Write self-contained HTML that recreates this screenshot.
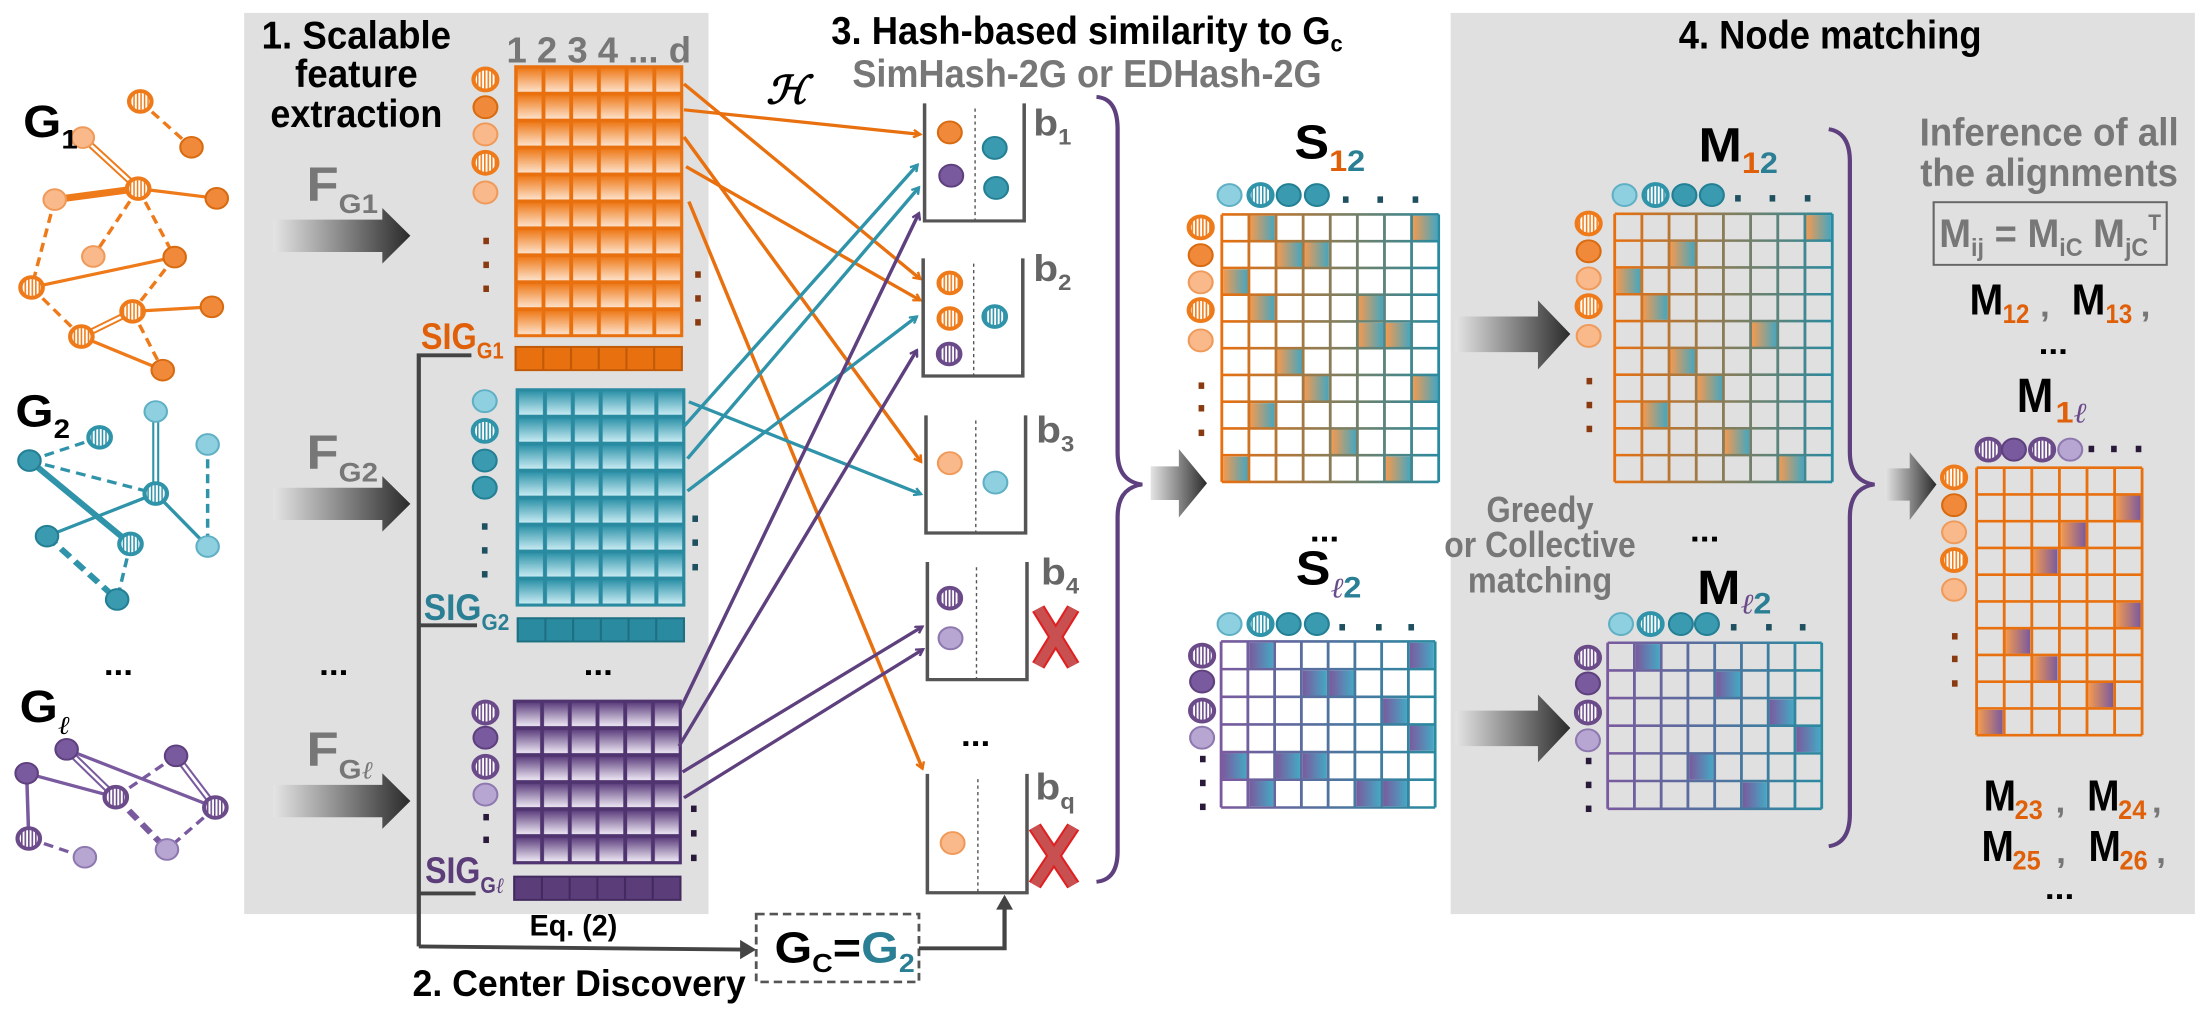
<!DOCTYPE html>
<html><head><meta charset="utf-8"><style>
html,body{margin:0;padding:0;background:#fff;}
svg{display:block;}
text{font-family:"Liberation Sans Narrow","Liberation Sans",sans-serif;font-weight:bold;}
</style></head><body>
<svg width="2204" height="1013" viewBox="0 0 2204 1013" xmlns="http://www.w3.org/2000/svg">
<defs>
<linearGradient id="gO" x1="0" y1="0" x2="0" y2="1"><stop offset="0" stop-color="#ee7a1a"/><stop offset="1" stop-color="#fde0c8"/></linearGradient>
<linearGradient id="gT" x1="0" y1="0" x2="0" y2="1"><stop offset="0" stop-color="#2f93a9"/><stop offset="1" stop-color="#c6eaf2"/></linearGradient>
<linearGradient id="gP" x1="0" y1="0" x2="0" y2="1"><stop offset="0" stop-color="#5e407e"/><stop offset="1" stop-color="#ece6f3"/></linearGradient>
<pattern id="pO" patternUnits="userSpaceOnUse" x="735" y="103" width="39.5" height="41.7"><rect width="39.5" height="41.7" fill="#e8700f"/><rect x="3" y="3" width="34" height="36" fill="url(#gO)"/></pattern>
<pattern id="pT" patternUnits="userSpaceOnUse" x="737" y="603" width="39.7" height="41.75"><rect width="39.7" height="41.75" fill="#2a8aa0"/><rect x="3" y="3" width="34" height="36" fill="url(#gT)"/></pattern>
<pattern id="pP" patternUnits="userSpaceOnUse" x="733" y="1085" width="39.5" height="41.8"><rect width="39.5" height="41.8" fill="#4f3470"/><rect x="3" y="3" width="34" height="36" fill="url(#gP)"/></pattern>
<linearGradient id="gArr" x1="0" y1="0" x2="1" y2="0"><stop offset="0" stop-color="#e4e4e4"/><stop offset="0.5" stop-color="#888"/><stop offset="1" stop-color="#2a2a2a"/></linearGradient>
<linearGradient id="gOT" x1="0" y1="0" x2="1" y2="0"><stop offset="0" stop-color="#f39a50"/><stop offset="1" stop-color="#45a6c0"/></linearGradient>
<linearGradient id="gPT" x1="0" y1="0" x2="1" y2="0"><stop offset="0" stop-color="#7a5a9e"/><stop offset="1" stop-color="#45a8c4"/></linearGradient>
<linearGradient id="gOP" x1="0" y1="0" x2="1" y2="0"><stop offset="0" stop-color="#f39a50"/><stop offset="1" stop-color="#7a5a9e"/></linearGradient>
<linearGradient id="sOT" x1="0" y1="0" x2="1" y2="0"><stop offset="0" stop-color="#e8700f"/><stop offset="1" stop-color="#2a8aa0"/></linearGradient>
<linearGradient id="sPT" x1="0" y1="0" x2="1" y2="0"><stop offset="0" stop-color="#7a5a9e"/><stop offset="1" stop-color="#2a8aa0"/></linearGradient>
<pattern id="hO" patternUnits="userSpaceOnUse" width="5" height="5"><rect width="5" height="5" fill="#fff"/><rect x="0" width="2.2" height="5" fill="#f07d1a"/></pattern>
<pattern id="hT" patternUnits="userSpaceOnUse" width="5" height="5"><rect width="5" height="5" fill="#fff"/><rect x="0" width="2.2" height="5" fill="#2f93a9"/></pattern>
<pattern id="hP" patternUnits="userSpaceOnUse" width="5" height="5"><rect width="5" height="5" fill="#fff"/><rect x="0" width="2.2" height="5" fill="#6b4a8a"/></pattern>
<marker id="mO" markerWidth="14" markerHeight="14" refX="11" refY="7" orient="auto" markerUnits="userSpaceOnUse"><path d="M1,1 L11,7 L1,13" fill="none" stroke="#e8700f" stroke-width="3.5"/></marker>
<marker id="mT" markerWidth="14" markerHeight="14" refX="11" refY="7" orient="auto" markerUnits="userSpaceOnUse"><path d="M1,1 L11,7 L1,13" fill="none" stroke="#2f93a9" stroke-width="3.5"/></marker>
<marker id="mP" markerWidth="14" markerHeight="14" refX="11" refY="7" orient="auto" markerUnits="userSpaceOnUse"><path d="M1,1 L11,7 L1,13" fill="none" stroke="#5e407e" stroke-width="3.5"/></marker>
</defs>
<rect width="2204" height="1013" fill="#fff"/>

<!-- LEFT -->
<g transform="scale(0.7015,0.646)">
<rect x="348" y="20" width="662" height="1395" fill="#e0e0e0"/>

<!-- G1 graph -->
<g stroke="#ee7a1a" stroke-width="5" fill="none">
<line x1="200" y1="157" x2="273" y2="228" stroke-dasharray="14,9"/>
<line x1="118" y1="213" x2="197" y2="292" stroke-width="10"/><line x1="118" y1="213" x2="197" y2="292" stroke="#fff" stroke-width="4"/>
<line x1="78" y1="309" x2="197" y2="292" stroke-width="11"/>
<line x1="197" y1="292" x2="309" y2="307"/>
<line x1="197" y1="292" x2="133" y2="397" stroke-dasharray="14,9"/>
<line x1="197" y1="292" x2="249" y2="398" stroke-dasharray="14,9"/>
<line x1="78" y1="309" x2="45" y2="445" stroke-dasharray="14,9"/>
<line x1="45" y1="445" x2="249" y2="398"/>
<line x1="249" y1="398" x2="189" y2="482" stroke-dasharray="14,9"/>
<line x1="189" y1="482" x2="302" y2="475"/>
<line x1="189" y1="482" x2="116" y2="521" stroke-width="10"/><line x1="189" y1="482" x2="116" y2="521" stroke="#fff" stroke-width="4"/>
<line x1="45" y1="445" x2="116" y2="521" stroke-dasharray="14,9"/>
<line x1="116" y1="521" x2="232" y2="573"/>
<line x1="189" y1="482" x2="232" y2="573" stroke-dasharray="14,9"/>
</g>
<g stroke-width="6">
<circle cx="200" cy="157" r="16" fill="url(#hO)" stroke="#ee7a1a"/>
<circle cx="118" cy="213" r="16" fill="#f9b98a" stroke="#f09a5a" stroke-width="3"/>
<circle cx="273" cy="228" r="16" fill="#f08a3a" stroke="#d86a10" stroke-width="3"/>
<circle cx="197" cy="292" r="16" fill="url(#hO)" stroke="#ee7a1a"/>
<circle cx="78" cy="309" r="16" fill="#f9b98a" stroke="#f09a5a" stroke-width="3"/>
<circle cx="309" cy="307" r="16" fill="#f08a3a" stroke="#d86a10" stroke-width="3"/>
<circle cx="133" cy="397" r="16" fill="#f9b98a" stroke="#f09a5a" stroke-width="3"/>
<circle cx="249" cy="398" r="16" fill="#f08a3a" stroke="#d86a10" stroke-width="3"/>
<circle cx="45" cy="445" r="16" fill="url(#hO)" stroke="#ee7a1a"/>
<circle cx="189" cy="482" r="16" fill="url(#hO)" stroke="#ee7a1a"/>
<circle cx="302" cy="475" r="16" fill="#f08a3a" stroke="#d86a10" stroke-width="3"/>
<circle cx="116" cy="521" r="16" fill="url(#hO)" stroke="#ee7a1a"/>
<circle cx="232" cy="573" r="16" fill="#f08a3a" stroke="#d86a10" stroke-width="3"/>
</g>
<text x="33" y="212" font-size="70">G<tspan font-size="42" dy="18">1</tspan></text>

<!-- G2 graph -->
<g stroke="#2f93a9" stroke-width="5" fill="none">
<line x1="42" y1="713" x2="142" y2="677" stroke-dasharray="14,9"/>
<line x1="222" y1="637" x2="222" y2="764" stroke-width="10"/><line x1="222" y1="637" x2="222" y2="764" stroke="#fff" stroke-width="4"/>
<line x1="296" y1="688" x2="296" y2="846" stroke-dasharray="14,9"/>
<line x1="42" y1="713" x2="222" y2="764" stroke-dasharray="14,9"/>
<line x1="42" y1="713" x2="186" y2="842" stroke-width="9"/>
<line x1="67" y1="830" x2="222" y2="764"/>
<line x1="222" y1="764" x2="296" y2="846"/>
<line x1="67" y1="830" x2="167" y2="928" stroke-width="9" stroke-dasharray="18,10"/>
<line x1="186" y1="842" x2="167" y2="928" stroke-dasharray="14,9"/>
</g>
<circle cx="222" cy="637" r="16" fill="#8fd0e0" stroke="#5fb0c4" stroke-width="3"/>
<circle cx="142" cy="677" r="16" fill="url(#hT)" stroke="#2f93a9" stroke-width="6"/>
<circle cx="296" cy="688" r="16" fill="#8fd0e0" stroke="#5fb0c4" stroke-width="3"/>
<circle cx="42" cy="713" r="16" fill="#3a9ab0" stroke="#237f94" stroke-width="3"/>
<circle cx="222" cy="764" r="16" fill="url(#hT)" stroke="#2f93a9" stroke-width="6"/>
<circle cx="67" cy="830" r="16" fill="#3a9ab0" stroke="#237f94" stroke-width="3"/>
<circle cx="186" cy="842" r="16" fill="url(#hT)" stroke="#2f93a9" stroke-width="6"/>
<circle cx="296" cy="846" r="16" fill="#8fd0e0" stroke="#5fb0c4" stroke-width="3"/>
<circle cx="167" cy="928" r="16" fill="#3a9ab0" stroke="#237f94" stroke-width="3"/>
<text x="22" y="660" font-size="70">G<tspan font-size="42" dy="18">2</tspan></text>
<text x="148" y="1045" font-size="50">...</text>

<!-- Gl graph -->
<g stroke="#7a5a9e" stroke-width="5" fill="none">
<line x1="95" y1="1160" x2="307" y2="1250"/>
<line x1="95" y1="1160" x2="165" y2="1234" stroke-width="10"/><line x1="95" y1="1160" x2="165" y2="1234" stroke="#fff" stroke-width="4"/>
<line x1="251" y1="1170" x2="165" y2="1234" stroke-dasharray="14,9"/>
<line x1="251" y1="1170" x2="307" y2="1250" stroke-width="10"/><line x1="251" y1="1170" x2="307" y2="1250" stroke="#fff" stroke-width="4"/>
<line x1="38" y1="1197" x2="165" y2="1234"/>
<line x1="38" y1="1197" x2="41" y2="1298"/>
<line x1="41" y1="1298" x2="121" y2="1327" stroke-dasharray="14,9"/>
<line x1="165" y1="1234" x2="238" y2="1315" stroke-width="9" stroke-dasharray="18,10"/>
<line x1="307" y1="1250" x2="238" y2="1315" stroke-dasharray="14,9"/>
</g>
<circle cx="95" cy="1160" r="16" fill="#7a5a9e" stroke="#5e407e" stroke-width="3"/>
<circle cx="251" cy="1170" r="16" fill="#7a5a9e" stroke="#5e407e" stroke-width="3"/>
<circle cx="38" cy="1197" r="16" fill="#7a5a9e" stroke="#5e407e" stroke-width="3"/>
<circle cx="165" cy="1234" r="16" fill="url(#hP)" stroke="#6b4a8a" stroke-width="6"/>
<circle cx="307" cy="1250" r="16" fill="url(#hP)" stroke="#6b4a8a" stroke-width="6"/>
<circle cx="41" cy="1298" r="16" fill="url(#hP)" stroke="#6b4a8a" stroke-width="6"/>
<circle cx="121" cy="1327" r="16" fill="#b8a6d2" stroke="#8e78b0" stroke-width="3"/>
<circle cx="238" cy="1315" r="16" fill="#b8a6d2" stroke="#8e78b0" stroke-width="3"/>
<text x="28" y="1118" font-size="70">G<tspan font-size="40" dy="18" font-style="italic" font-weight="normal" font-family="Liberation Serif,serif">ℓ</tspan></text>

<!-- Section 1 -->
<text x="508" y="75" font-size="60" text-anchor="middle" textLength="270" lengthAdjust="spacingAndGlyphs">1. Scalable</text>
<text x="508" y="135" font-size="60" text-anchor="middle" textLength="175" lengthAdjust="spacingAndGlyphs">feature</text>
<text x="508" y="197" font-size="60" text-anchor="middle" textLength="245" lengthAdjust="spacingAndGlyphs">extraction</text>
<text x="722" y="97" font-size="56" fill="#777" textLength="263" lengthAdjust="spacingAndGlyphs">1 2 3 4 ... d</text>

<!-- F arrows -->
<path d="M390,340 H545 V322 L585,365 L545,408 V390 H390 Z" fill="url(#gArr)"/>
<path d="M390,755 H545 V737 L585,780 L545,823 V805 H390 Z" fill="url(#gArr)"/>
<path d="M390,1215 H545 V1197 L585,1240 L545,1283 V1265 H390 Z" fill="url(#gArr)"/>
<text x="437" y="310" font-size="75" fill="#777">F<tspan font-size="42" dy="20">G1</tspan></text>
<text x="437" y="725" font-size="75" fill="#777">F<tspan font-size="42" dy="20">G2</tspan></text>
<text x="437" y="1185" font-size="75" fill="#777">F<tspan font-size="42" dy="20">G</tspan><tspan font-size="38" font-style="italic" font-weight="normal" font-family="Liberation Serif,serif">ℓ</tspan></text>
<text x="455" y="1045" font-size="50">...</text>
<text x="832" y="1045" font-size="50">...</text>

<!-- matrices -->
<rect x="735" y="103" width="237" height="417" fill="url(#pO)" stroke="#e8700f" stroke-width="4"/>
<rect x="737" y="603" width="238" height="334" fill="url(#pT)" stroke="#2a8aa0" stroke-width="4"/>
<rect x="733" y="1085" width="237" height="251" fill="url(#pP)" stroke="#4f3470" stroke-width="4"/>
<rect x="735" y="537" width="237" height="36" fill="#e8700f" stroke="#c05a08" stroke-width="3"/>
<path d="M774.5,537V573M814,537V573M853.5,537V573M893,537V573M932.5,537V573" stroke="#c05a08" stroke-width="3"/>
<rect x="738" y="957" width="237" height="36" fill="#2a8aa0" stroke="#1e6f82" stroke-width="3"/>
<path d="M777.5,957V993M817,957V993M856.5,957V993M896,957V993M935.5,957V993" stroke="#1e6f82" stroke-width="3"/>
<rect x="733" y="1357" width="237" height="36" fill="#5b3d7a" stroke="#432a5e" stroke-width="3"/>
<path d="M772.5,1357V1393M812,1357V1393M851.5,1357V1393M891,1357V1393M930.5,1357V1393" stroke="#432a5e" stroke-width="3"/>

<!-- row circles -->
<circle cx="692" cy="123" r="17" fill="url(#hO)" stroke="#ee7a1a" stroke-width="6"/>
<circle cx="692" cy="166" r="17" fill="#f08a3a" stroke="#d86a10" stroke-width="3"/>
<circle cx="692" cy="208" r="17" fill="#f9b98a" stroke="#f09a5a" stroke-width="3"/>
<circle cx="692" cy="252" r="17" fill="url(#hO)" stroke="#ee7a1a" stroke-width="6"/>
<circle cx="692" cy="298" r="17" fill="#f9b98a" stroke="#f09a5a" stroke-width="3"/>
<g fill="#8a3a10"><rect x="689" y="368" width="8" height="10"/><rect x="689" y="405" width="8" height="10"/><rect x="689" y="442" width="8" height="10"/>
<rect x="991" y="420" width="8" height="10"/><rect x="991" y="457" width="8" height="10"/><rect x="991" y="494" width="8" height="10"/></g>
<circle cx="691" cy="621" r="17" fill="#8fd0e0" stroke="#5fb0c4" stroke-width="3"/>
<circle cx="691" cy="667" r="17" fill="url(#hT)" stroke="#2f93a9" stroke-width="6"/>
<circle cx="691" cy="713" r="17" fill="#3a9ab0" stroke="#237f94" stroke-width="3"/>
<circle cx="691" cy="755" r="17" fill="#3a9ab0" stroke="#237f94" stroke-width="3"/>
<g fill="#1e5060"><rect x="687" y="810" width="8" height="10"/><rect x="687" y="847" width="8" height="10"/><rect x="687" y="884" width="8" height="10"/>
<rect x="987" y="798" width="8" height="10"/><rect x="987" y="835" width="8" height="10"/><rect x="987" y="873" width="8" height="10"/></g>
<circle cx="692" cy="1103" r="17" fill="url(#hP)" stroke="#6b4a8a" stroke-width="6"/>
<circle cx="692" cy="1142" r="17" fill="#7a5a9e" stroke="#5e407e" stroke-width="3"/>
<circle cx="692" cy="1187" r="17" fill="url(#hP)" stroke="#6b4a8a" stroke-width="6"/>
<circle cx="692" cy="1230" r="17" fill="#b8a6d2" stroke="#8e78b0" stroke-width="3"/>
<g fill="#2a1a3a"><rect x="689" y="1260" width="8" height="10"/><rect x="689" y="1295" width="8" height="10"/>
<rect x="985" y="1247" width="8" height="10"/><rect x="985" y="1285" width="8" height="10"/><rect x="985" y="1323" width="8" height="10"/></g>

<text x="600" y="540" font-size="58" fill="#e0600a" textLength="118" lengthAdjust="spacingAndGlyphs">SIG<tspan font-size="36" dy="15">G1</tspan></text>
<text x="604" y="960" font-size="58" fill="#2a7f94" textLength="122" lengthAdjust="spacingAndGlyphs">SIG<tspan font-size="36" dy="15">G2</tspan></text>
<text x="606" y="1367" font-size="58" fill="#5b3d7a" textLength="112" lengthAdjust="spacingAndGlyphs">SIG<tspan font-size="36" dy="15">G</tspan><tspan font-size="34" font-style="italic" font-weight="normal" font-family="Liberation Serif,serif">ℓ</tspan></text>

<!-- center discovery -->
<path d="M672,550 H597 V1465 M680,968 H597 M678,1383 H597" fill="none" stroke="#444" stroke-width="6"/>
<path d="M597,1465 L1060,1470" stroke="#444" stroke-width="6"/>
<path d="M1055,1455 L1078,1470 L1055,1485 Z" fill="#444"/>
<text x="755" y="1448" font-size="46" textLength="125" lengthAdjust="spacingAndGlyphs">Eq. (2)</text>
<rect x="1078" y="1415" width="232" height="105" fill="#fff" stroke="#555" stroke-width="4" stroke-dasharray="12,7"/>
<text x="1104" y="1490" font-size="68" textLength="200" lengthAdjust="spacingAndGlyphs">G<tspan font-size="40" dy="15">C</tspan><tspan dy="-15">=</tspan><tspan fill="#2a7f94">G</tspan><tspan font-size="40" dy="15" fill="#2a7f94">2</tspan></text>
<path d="M1310,1468 H1432 V1405" fill="none" stroke="#444" stroke-width="6"/>
<path d="M1420,1408 L1432,1385 L1444,1408 Z" fill="#444"/>
<text x="588" y="1542" font-size="58" textLength="475" lengthAdjust="spacingAndGlyphs">2. Center Discovery</text>

<!-- section 3 titles -->
<text x="1185" y="68" font-size="60" textLength="729" lengthAdjust="spacingAndGlyphs">3. Hash-based similarity to G<tspan font-size="36" dy="12">c</tspan></text>
<text x="1215" y="135" font-size="60" fill="#777" textLength="669" lengthAdjust="spacingAndGlyphs">SimHash-2G   or EDHash-2G</text>
<text x="1092" y="160" font-size="60" font-style="italic" font-weight="normal" font-family="Liberation Serif,serif">ℋ</text>

<!-- hash arrows -->
<g fill="none" stroke-width="5">
<g stroke="#e8700f" marker-end="url(#mO)">
<line x1="975" y1="170" x2="1312" y2="208"/>
<line x1="975" y1="130" x2="1312" y2="432"/>
<line x1="978" y1="258" x2="1312" y2="465"/>
<line x1="975" y1="212" x2="1313" y2="715"/>
<line x1="982" y1="312" x2="1315" y2="1190"/>
</g>
<g stroke="#2f93a9" marker-end="url(#mT)">
<line x1="975" y1="660" x2="1308" y2="255"/>
<line x1="980" y1="710" x2="1310" y2="290"/>
<line x1="980" y1="760" x2="1307" y2="490"/>
<line x1="982" y1="622" x2="1313" y2="765"/>
</g>
<g stroke="#5e407e" marker-end="url(#mP)">
<line x1="970" y1="1097" x2="1310" y2="330"/>
<line x1="968" y1="1155" x2="1307" y2="542"/>
<line x1="973" y1="1195" x2="1315" y2="970"/>
<line x1="975" y1="1235" x2="1316" y2="1005"/>
</g>
</g>

<!-- buckets -->
<g fill="none" stroke="#555" stroke-width="5">
<path d="M1318,160 V342 H1460 V160"/><path d="M1316,400 V582 H1458 V400"/><path d="M1320,643 V825 H1462 V643"/><path d="M1322,870 V1052 H1464 V870"/><path d="M1322,1198 V1382 H1464 V1198"/>
</g>
<g stroke="#555" stroke-width="2" stroke-dasharray="5,5">
<line x1="1390" y1="168" x2="1390" y2="340"/><line x1="1388" y1="408" x2="1388" y2="580"/><line x1="1391" y1="651" x2="1391" y2="823"/><line x1="1392" y1="878" x2="1392" y2="1050"/><line x1="1394" y1="1206" x2="1394" y2="1380"/>
</g>
<circle cx="1354" cy="205" r="17" fill="#f08a3a" stroke="#d86a10" stroke-width="3"/>
<circle cx="1356" cy="272" r="17" fill="#7a5a9e" stroke="#5e407e" stroke-width="3"/>
<circle cx="1418" cy="229" r="17" fill="#3a9ab0" stroke="#237f94" stroke-width="3"/>
<circle cx="1420" cy="291" r="17" fill="#3a9ab0" stroke="#237f94" stroke-width="3"/>
<circle cx="1354" cy="438" r="16" fill="url(#hO)" stroke="#ee7a1a" stroke-width="6"/>
<circle cx="1354" cy="493" r="16" fill="url(#hO)" stroke="#ee7a1a" stroke-width="6"/>
<circle cx="1353" cy="548" r="16" fill="url(#hP)" stroke="#6b4a8a" stroke-width="6"/>
<circle cx="1418" cy="490" r="16" fill="url(#hT)" stroke="#2f93a9" stroke-width="6"/>
<circle cx="1354" cy="717" r="17" fill="#f9b98a" stroke="#f09a5a" stroke-width="3"/>
<circle cx="1419" cy="747" r="17" fill="#8fd0e0" stroke="#5fb0c4" stroke-width="3"/>
<circle cx="1354" cy="926" r="16" fill="url(#hP)" stroke="#6b4a8a" stroke-width="6"/>
<circle cx="1355" cy="988" r="17" fill="#b8a6d2" stroke="#8e78b0" stroke-width="3"/>
<circle cx="1358" cy="1305" r="17" fill="#f9b98a" stroke="#f09a5a" stroke-width="3"/>
<g font-size="58" fill="#666">
<text x="1473" y="210">b<tspan font-size="34" dy="14">1</tspan></text>
<text x="1473" y="435">b<tspan font-size="34" dy="14">2</tspan></text>
<text x="1477" y="685">b<tspan font-size="34" dy="14">3</tspan></text>
<text x="1484" y="905">b<tspan font-size="34" dy="14">4</tspan></text>
<text x="1476" y="1238">b<tspan font-size="34" dy="14">q</tspan></text>
</g>
<text x="1370" y="1155" font-size="50">...</text>
<g stroke="#e02020" stroke-width="20" stroke-linecap="butt"><path d="M1480,942 L1530,1030 M1530,942 L1480,1030"/><path d="M1475,1280 L1530,1370 M1530,1280 L1475,1370"/></g>
<g stroke="#c85050" stroke-width="14"><path d="M1480,942 L1530,1030 M1530,942 L1480,1030"/><path d="M1475,1280 L1530,1370 M1530,1280 L1475,1370"/></g>
</g>

<!-- RIGHT -->
<g transform="translate(1100,0) scale(0.7041,0.646)">
<rect x="498" y="20" width="1057" height="1395" fill="#e0e0e0"/>
<path d="M-5,150 Q25,152 25,200 L25,700 Q25,745 60,750 Q25,755 25,800 L25,1318 Q25,1362 -5,1365" fill="none" stroke="#5e407e" stroke-width="6"/>
<path d="M1035,200 Q1065,205 1065,250 L1065,700 Q1065,745 1100,750 Q1065,755 1065,800 L1065,1260 Q1065,1305 1035,1310" fill="none" stroke="#5e407e" stroke-width="6"/>
<text x="1037" y="75" font-size="62" text-anchor="middle" textLength="430" lengthAdjust="spacingAndGlyphs">4. Node matching</text>

<!-- arrows -->
<path d="M72,722 H112 V695 L152,748 L112,801 V774 H72 Z" fill="url(#gArr)"/>
<path d="M505,490 H622 V465 L668,517 L622,572 V545 H505 Z" fill="url(#gArr)"/>
<path d="M505,1100 H622 V1075 L668,1127 L622,1180 V1155 H505 Z" fill="url(#gArr)"/>
<path d="M1115,725 H1150 V700 L1188,750 L1150,805 V775 H1115 Z" fill="url(#gArr)"/>

<!-- S12 -->
<text x="276" y="245" font-size="74">S<tspan font-size="46" dy="20" fill="#e0600a">1</tspan><tspan font-size="46" fill="#2a7f94">2</tspan></text>
<rect x="173" y="332" width="308" height="414" fill="#fff"/>
<g fill="url(#gOT)">
<rect x="213" y="334" width="35" height="38"/><rect x="444" y="334" width="35" height="38"/>
<rect x="252" y="375" width="35" height="38"/><rect x="290" y="375" width="35" height="38"/>
<rect x="175" y="417" width="35" height="38"/>
<rect x="213" y="458" width="35" height="38"/><rect x="367" y="458" width="35" height="38"/>
<rect x="367" y="500" width="35" height="38"/><rect x="406" y="500" width="35" height="38"/>
<rect x="252" y="541" width="35" height="38"/>
<rect x="290" y="582" width="35" height="38"/><rect x="444" y="582" width="35" height="38"/>
<rect x="213" y="624" width="35" height="38"/>
<rect x="329" y="665" width="35" height="38"/>
<rect x="175" y="707" width="35" height="38"/><rect x="406" y="707" width="35" height="38"/>
</g>
<path d="M173,332H481M173,373.4H481M173,414.8H481M173,456.2H481M173,497.6H481M173,539H481M173,580.4H481M173,621.8H481M173,663.2H481M173,704.6H481M173,746H481M173,332V746M211.5,332V746M250,332V746M288.5,332V746M327,332V746M365.5,332V746M404,332V746M442.5,332V746M481,332V746" stroke="url(#sOT)" stroke-width="4" fill="none"/>
<circle cx="184" cy="302" r="17" fill="#8fd0e0" stroke="#5fb0c4" stroke-width="3"/>
<circle cx="228" cy="302" r="17" fill="url(#hT)" stroke="#2f93a9" stroke-width="6"/>
<circle cx="268" cy="302" r="17" fill="#3a9ab0" stroke="#237f94" stroke-width="3"/>
<circle cx="308" cy="302" r="17" fill="#3a9ab0" stroke="#237f94" stroke-width="3"/>
<g fill="#1e5060"><rect x="345" y="304" width="8" height="10"/><rect x="394" y="304" width="8" height="10"/><rect x="444" y="304" width="8" height="10"/></g>
<circle cx="143" cy="352" r="17" fill="url(#hO)" stroke="#ee7a1a" stroke-width="6"/>
<circle cx="143" cy="395" r="17" fill="#f08a3a" stroke="#d86a10" stroke-width="3"/>
<circle cx="143" cy="437" r="17" fill="#f9b98a" stroke="#f09a5a" stroke-width="3"/>
<circle cx="143" cy="480" r="17" fill="url(#hO)" stroke="#ee7a1a" stroke-width="6"/>
<circle cx="143" cy="527" r="17" fill="#f9b98a" stroke="#f09a5a" stroke-width="3"/>
<g fill="#8a3a10"><rect x="140" y="592" width="8" height="10"/><rect x="140" y="627" width="8" height="10"/><rect x="140" y="665" width="8" height="10"/></g>

<!-- Sl2 -->
<text x="298" y="838" font-size="50">...</text>
<text x="278" y="905" font-size="74">S<tspan font-size="44" dy="20" fill="#6b4a8a" font-style="italic" font-weight="normal" font-family="Liberation Serif,serif">ℓ</tspan><tspan font-size="46" fill="#2a7f94">2</tspan></text>
<rect x="172" y="993" width="304" height="257" fill="#fff"/>
<g fill="url(#gPT)">
<rect x="212" y="995" width="34" height="39"/><rect x="440" y="995" width="34" height="39"/>
<rect x="288" y="1038" width="34" height="39"/><rect x="326" y="1038" width="34" height="39"/>
<rect x="402" y="1081" width="34" height="39"/>
<rect x="440" y="1123" width="34" height="39"/>
<rect x="174" y="1166" width="34" height="39"/><rect x="250" y="1166" width="34" height="39"/><rect x="288" y="1166" width="34" height="39"/>
<rect x="212" y="1209" width="34" height="39"/><rect x="364" y="1209" width="34" height="39"/><rect x="402" y="1209" width="34" height="39"/>
</g>
<path d="M172,993H476M172,1035.8H476M172,1078.6H476M172,1121.4H476M172,1164.2H476M172,1207H476M172,1250H476M172,993V1250M210,993V1250M248,993V1250M286,993V1250M324,993V1250M362,993V1250M400,993V1250M438,993V1250M476,993V1250" stroke="url(#sPT)" stroke-width="4" fill="none"/>
<circle cx="184" cy="966" r="17" fill="#8fd0e0" stroke="#5fb0c4" stroke-width="3"/>
<circle cx="228" cy="966" r="17" fill="url(#hT)" stroke="#2f93a9" stroke-width="6"/>
<circle cx="268" cy="966" r="17" fill="#3a9ab0" stroke="#237f94" stroke-width="3"/>
<circle cx="308" cy="966" r="17" fill="#3a9ab0" stroke="#237f94" stroke-width="3"/>
<g fill="#1e5060"><rect x="340" y="966" width="8" height="10"/><rect x="392" y="966" width="8" height="10"/><rect x="438" y="966" width="8" height="10"/></g>
<circle cx="145" cy="1015" r="17" fill="url(#hP)" stroke="#6b4a8a" stroke-width="6"/>
<circle cx="145" cy="1055" r="17" fill="#7a5a9e" stroke="#5e407e" stroke-width="3"/>
<circle cx="145" cy="1100" r="17" fill="url(#hP)" stroke="#6b4a8a" stroke-width="6"/>
<circle cx="145" cy="1142" r="17" fill="#b8a6d2" stroke="#8e78b0" stroke-width="3"/>
<g fill="#2a1a3a"><rect x="142" y="1170" width="8" height="10"/><rect x="142" y="1207" width="8" height="10"/><rect x="142" y="1244" width="8" height="10"/></g>

<!-- Greedy -->
<g font-size="56" fill="#777" text-anchor="middle">
<text x="625" y="808" textLength="152" lengthAdjust="spacingAndGlyphs">Greedy</text>
<text x="625" y="862" textLength="272" lengthAdjust="spacingAndGlyphs">or Collective</text>
<text x="625" y="917" textLength="205" lengthAdjust="spacingAndGlyphs">matching</text>
</g>

<!-- M12 -->
<text x="850" y="250" font-size="74">M<tspan font-size="46" dy="18" fill="#e0600a">1</tspan><tspan font-size="46" fill="#2a7f94">2</tspan></text>
<g fill="url(#gOT)">
<rect x="1003" y="333" width="35" height="38"/><rect x="810" y="374" width="35" height="38"/><rect x="733" y="416" width="35" height="38"/><rect x="771" y="457" width="35" height="38"/><rect x="926" y="499" width="35" height="38"/><rect x="810" y="540" width="35" height="38"/><rect x="849" y="582" width="35" height="38"/><rect x="771" y="623" width="35" height="38"/><rect x="887" y="665" width="35" height="38"/><rect x="964" y="706" width="35" height="38"/>
</g>
<path d="M731,331H1040M731,372.5H1040M731,414H1040M731,455.5H1040M731,497H1040M731,538.5H1040M731,580H1040M731,621.5H1040M731,663H1040M731,704.5H1040M731,746H1040M731,331V746M769.6,331V746M808.2,331V746M846.8,331V746M885.4,331V746M924,331V746M962.6,331V746M1001.2,331V746M1040,331V746" stroke="url(#sOT)" stroke-width="4" fill="none"/>
<circle cx="745" cy="302" r="17" fill="#8fd0e0" stroke="#5fb0c4" stroke-width="3"/>
<circle cx="789" cy="302" r="17" fill="url(#hT)" stroke="#2f93a9" stroke-width="6"/>
<circle cx="830" cy="302" r="17" fill="#3a9ab0" stroke="#237f94" stroke-width="3"/>
<circle cx="869" cy="302" r="17" fill="#3a9ab0" stroke="#237f94" stroke-width="3"/>
<g fill="#1e5060"><rect x="902" y="302" width="8" height="10"/><rect x="951" y="302" width="8" height="10"/><rect x="1001" y="302" width="8" height="10"/></g>
<circle cx="694" cy="346" r="17" fill="url(#hO)" stroke="#ee7a1a" stroke-width="6"/>
<circle cx="694" cy="389" r="17" fill="#f08a3a" stroke="#d86a10" stroke-width="3"/>
<circle cx="694" cy="431" r="17" fill="#f9b98a" stroke="#f09a5a" stroke-width="3"/>
<circle cx="694" cy="474" r="17" fill="url(#hO)" stroke="#ee7a1a" stroke-width="6"/>
<circle cx="694" cy="520" r="17" fill="#f9b98a" stroke="#f09a5a" stroke-width="3"/>
<g fill="#8a3a10"><rect x="691" y="585" width="8" height="10"/><rect x="691" y="622" width="8" height="10"/><rect x="691" y="659" width="8" height="10"/></g>

<!-- Ml2 -->
<text x="838" y="838" font-size="50">...</text>
<text x="848" y="935" font-size="74">M<tspan font-size="44" dy="15" fill="#6b4a8a" font-style="italic" font-weight="normal" font-family="Liberation Serif,serif">ℓ</tspan><tspan font-size="46" fill="#2a7f94">2</tspan></text>
<g fill="url(#gPT)">
<rect x="761" y="997" width="34" height="39"/><rect x="875" y="1040" width="34" height="39"/><rect x="951" y="1083" width="34" height="39"/><rect x="989" y="1125" width="34" height="39"/><rect x="837" y="1168" width="34" height="39"/><rect x="913" y="1211" width="34" height="39"/>
</g>
<path d="M721,995H1025M721,1037.8H1025M721,1080.6H1025M721,1123.4H1025M721,1166.2H1025M721,1209H1025M721,1252H1025M721,995V1252M759,995V1252M797,995V1252M835,995V1252M873,995V1252M911,995V1252M949,995V1252M987,995V1252M1025,995V1252" stroke="url(#sPT)" stroke-width="4" fill="none"/>
<circle cx="740" cy="966" r="17" fill="#8fd0e0" stroke="#5fb0c4" stroke-width="3"/>
<circle cx="782" cy="966" r="17" fill="url(#hT)" stroke="#2f93a9" stroke-width="6"/>
<circle cx="825" cy="966" r="17" fill="#3a9ab0" stroke="#237f94" stroke-width="3"/>
<circle cx="862" cy="966" r="17" fill="#3a9ab0" stroke="#237f94" stroke-width="3"/>
<g fill="#1e5060"><rect x="896" y="966" width="8" height="10"/><rect x="946" y="966" width="8" height="10"/><rect x="994" y="966" width="8" height="10"/></g>
<circle cx="693" cy="1018" r="17" fill="url(#hP)" stroke="#6b4a8a" stroke-width="6"/>
<circle cx="693" cy="1058" r="17" fill="#7a5a9e" stroke="#5e407e" stroke-width="3"/>
<circle cx="693" cy="1103" r="17" fill="url(#hP)" stroke="#6b4a8a" stroke-width="6"/>
<circle cx="693" cy="1146" r="17" fill="#b8a6d2" stroke="#8e78b0" stroke-width="3"/>
<g fill="#2a1a3a"><rect x="690" y="1173" width="8" height="10"/><rect x="690" y="1210" width="8" height="10"/><rect x="690" y="1247" width="8" height="10"/></g>

<!-- Inference -->
<g font-size="60" fill="#777" text-anchor="middle">
<text x="1348" y="225" textLength="368" lengthAdjust="spacingAndGlyphs">Inference of all</text>
<text x="1348" y="288" textLength="366" lengthAdjust="spacingAndGlyphs">the alignments</text>
</g>
<rect x="1184" y="313" width="331" height="97" fill="none" stroke="#666" stroke-width="3"/>
<text x="1192" y="382" font-size="62" fill="#777" textLength="315" lengthAdjust="spacingAndGlyphs">M<tspan font-size="38" dy="14">ij</tspan><tspan dy="-14"> = M</tspan><tspan font-size="38" dy="14">iC</tspan><tspan dy="-14"> M</tspan><tspan font-size="38" dy="14">jC</tspan><tspan font-size="34" dy="-40">T</tspan></text>
<g font-size="68">
<text x="1235" y="487" textLength="48" lengthAdjust="spacingAndGlyphs">M</text><text x="1282" y="500" font-size="42" fill="#e0600a" textLength="38" lengthAdjust="spacingAndGlyphs">12</text><text x="1335" y="490" fill="#777" font-size="50">,</text>
<text x="1380" y="487" textLength="48" lengthAdjust="spacingAndGlyphs">M</text><text x="1428" y="500" font-size="42" fill="#e0600a" textLength="38" lengthAdjust="spacingAndGlyphs">13</text><text x="1478" y="490" fill="#777" font-size="50">,</text>
<text x="1333" y="548" font-size="50">...</text>
<text x="1302" y="638" font-size="74" textLength="52" lengthAdjust="spacingAndGlyphs">M</text><text x="1357" y="654" font-size="46" fill="#e0600a">1<tspan font-size="44" fill="#6b4a8a" font-style="italic" font-weight="normal" font-family="Liberation Serif,serif">ℓ</tspan></text>
<text x="1255" y="1255" textLength="46" lengthAdjust="spacingAndGlyphs">M</text><text x="1299" y="1268" font-size="42" fill="#e0600a" textLength="40" lengthAdjust="spacingAndGlyphs">23</text><text x="1357" y="1258" fill="#777" font-size="50">,</text>
<text x="1402" y="1255" textLength="46" lengthAdjust="spacingAndGlyphs">M</text><text x="1446" y="1268" font-size="42" fill="#e0600a" textLength="40" lengthAdjust="spacingAndGlyphs">24</text><text x="1494" y="1258" fill="#777" font-size="50">,</text>
<text x="1252" y="1333" textLength="46" lengthAdjust="spacingAndGlyphs">M</text><text x="1296" y="1346" font-size="42" fill="#e0600a" textLength="40" lengthAdjust="spacingAndGlyphs">25</text><text x="1358" y="1336" fill="#777" font-size="50">,</text>
<text x="1404" y="1333" textLength="46" lengthAdjust="spacingAndGlyphs">M</text><text x="1448" y="1346" font-size="42" fill="#e0600a" textLength="40" lengthAdjust="spacingAndGlyphs">26</text><text x="1500" y="1336" fill="#777" font-size="50">,</text>
<text x="1342" y="1392" font-size="50">...</text>
</g>

<!-- M1l -->
<g fill="url(#gOP)">
<rect x="1443" y="767" width="35" height="38"/><rect x="1365" y="809" width="35" height="38"/><rect x="1325" y="850" width="35" height="38"/><rect x="1443" y="933" width="35" height="38"/><rect x="1286" y="974" width="35" height="38"/><rect x="1325" y="1016" width="35" height="38"/><rect x="1404" y="1057" width="35" height="38"/><rect x="1247" y="1099" width="35" height="38"/>
</g>
<path d="M1245,724H1480M1245,765.4H1480M1245,806.8H1480M1245,848.2H1480M1245,889.6H1480M1245,931H1480M1245,972.4H1480M1245,1013.8H1480M1245,1055.2H1480M1245,1096.6H1480M1245,1138H1480M1245,724V1138M1284.2,724V1138M1323.4,724V1138M1362.6,724V1138M1401.8,724V1138M1441,724V1138M1480,724V1138" stroke="#e8700f" stroke-width="4" fill="none"/>
<circle cx="1262" cy="696" r="17" fill="url(#hP)" stroke="#6b4a8a" stroke-width="6"/>
<circle cx="1298" cy="696" r="17" fill="#7a5a9e" stroke="#5e407e" stroke-width="3"/>
<circle cx="1338" cy="696" r="17" fill="url(#hP)" stroke="#6b4a8a" stroke-width="6"/>
<circle cx="1378" cy="696" r="17" fill="#b8a6d2" stroke="#8e78b0" stroke-width="3"/>
<g fill="#2a1a3a"><rect x="1404" y="690" width="8" height="10"/><rect x="1436" y="690" width="8" height="10"/><rect x="1471" y="690" width="8" height="10"/></g>
<circle cx="1213" cy="739" r="17" fill="url(#hO)" stroke="#ee7a1a" stroke-width="6"/>
<circle cx="1213" cy="782" r="17" fill="#f08a3a" stroke="#d86a10" stroke-width="3"/>
<circle cx="1213" cy="824" r="17" fill="#f9b98a" stroke="#f09a5a" stroke-width="3"/>
<circle cx="1213" cy="867" r="17" fill="url(#hO)" stroke="#ee7a1a" stroke-width="6"/>
<circle cx="1213" cy="913" r="17" fill="#f9b98a" stroke="#f09a5a" stroke-width="3"/>
<g fill="#8a3a10"><rect x="1210" y="980" width="8" height="10"/><rect x="1210" y="1015" width="8" height="10"/><rect x="1210" y="1053" width="8" height="10"/></g>
</g>
</svg>
</body></html>
